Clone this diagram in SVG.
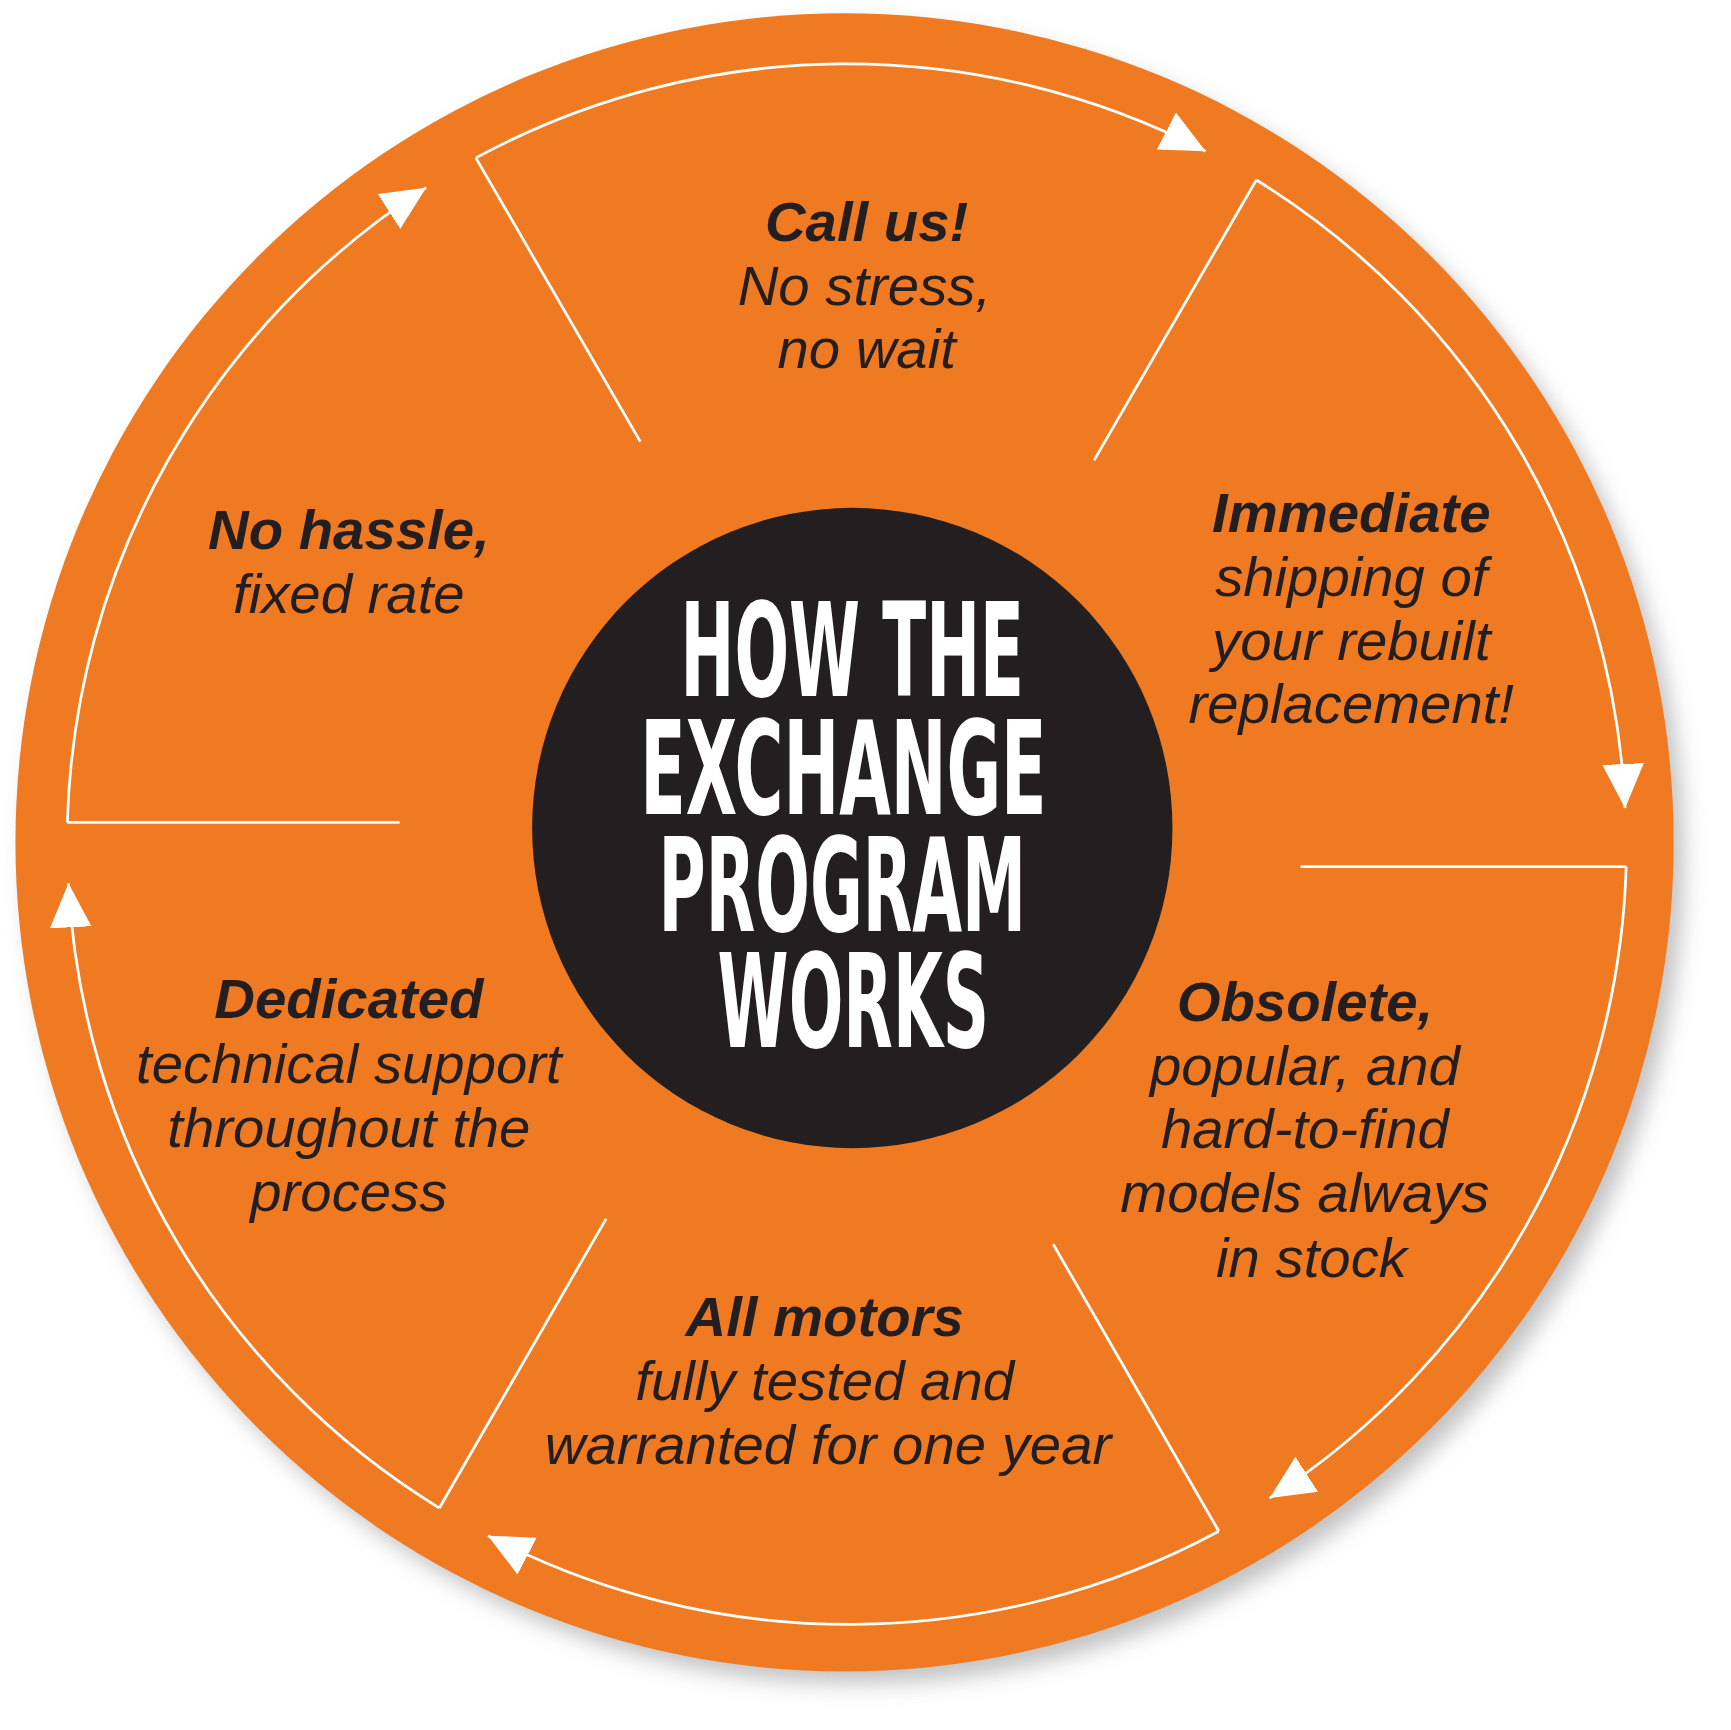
<svg xmlns="http://www.w3.org/2000/svg" width="1731" height="1730" viewBox="0 0 1731 1730">
<defs>
<style>
.t{font-family:"Liberation Sans",Arial,sans-serif;font-style:italic;font-size:51px;fill:#231F20;text-anchor:middle}
.b{font-weight:bold}
.h{font-family:"Liberation Sans Narrow","DejaVu Sans Condensed",sans-serif;font-weight:bold;font-size:118px;fill:#fff}
.ring{fill:none;stroke:#fff;stroke-width:2.5}
</style>
<marker id="ah" markerUnits="userSpaceOnUse" markerWidth="40" markerHeight="40" viewBox="0 0 34 32" refX="34" refY="16" orient="auto"><path d="M0,0 L34,16 L0,32 z" fill="#fff"/></marker>
<filter id="sh" x="-10%" y="-10%" width="120%" height="120%"><feGaussianBlur stdDeviation="10"/></filter>
</defs>
<rect width="1731" height="1730" fill="#fff"/>
<g transform="scale(1.104)">
<circle cx="775" cy="775" r="750" fill="#999" opacity="0.6" filter="url(#sh)"/>
<circle cx="765" cy="763" r="751" fill="#F07A22"/>
<circle id="center" cx="772" cy="750" r="290" fill="#231F20"/>
<g id="title">
<text class="h" x="772" y="630" text-anchor="middle" textLength="311" lengthAdjust="spacingAndGlyphs">HOW THE</text>
<text class="h" x="764" y="737" text-anchor="middle" textLength="368" lengthAdjust="spacingAndGlyphs">EXCHANGE</text>
<text class="h" x="763" y="843" text-anchor="middle" textLength="333" lengthAdjust="spacingAndGlyphs">PROGRAM</text>
<text class="h" x="773" y="948" text-anchor="middle" textLength="246" lengthAdjust="spacingAndGlyphs">WORKS</text>
</g>
<g id="connectors">
<path class="ring" d="M431,143 L580,400"/>
<path class="ring" d="M431,143 A706,706 0 0 1 1092,137" marker-end="url(#ah)"/>
<path class="ring" d="M991,417 L1138,163"/>
<path class="ring" d="M1138,163 A706,706 0 0 1 1472,732" marker-end="url(#ah)"/>
<path class="ring" d="M1178,785 L1473,785"/>
<path class="ring" d="M1473,785 A706,706 0 0 1 1150,1357" marker-end="url(#ah)"/>
<path class="ring" d="M954,1127 L1104,1387"/>
<path class="ring" d="M1104,1387 A706,706 0 0 1 442,1391" marker-end="url(#ah)"/>
<path class="ring" d="M549,1104 L398,1366"/>
<path class="ring" d="M398,1366 A706,706 0 0 1 62,800" marker-end="url(#ah)"/>
<path class="ring" d="M362,745 L61,745"/>
<path class="ring" d="M61,745 A706,706 0 0 1 386,170" marker-end="url(#ah)"/>
</g>
<g id="n1"><text class="t b" x="785" y="218">Call us!</text><text class="t" x="783" y="276">No stress,</text><text class="t" x="785" y="333">no wait</text></g>
<g id="n2"><text class="t b" x="1224" y="482">Immediate</text><text class="t" x="1224" y="540">shipping of</text><text class="t" x="1224" y="598">your rebuilt</text><text class="t" x="1224" y="655">replacement!</text></g>
<g id="n3"><text class="t b" x="1182" y="925">Obsolete,</text><text class="t" x="1182" y="983">popular, and</text><text class="t" x="1182" y="1040">hard-to-find</text><text class="t" x="1182" y="1098">models always</text><text class="t" x="1188" y="1157">in stock</text></g>
<g id="n4"><text class="t b" x="747" y="1210">All motors</text><text class="t" x="747" y="1268">fully tested and</text><text class="t" x="750" y="1326">warranted for one year</text></g>
<g id="n5"><text class="t b" x="316" y="922">Dedicated</text><text class="t" x="316" y="981">technical support</text><text class="t" x="316" y="1039">throughout the</text><text class="t" x="316" y="1097">process</text></g>
<g id="n6"><text class="t b" x="316" y="497">No hassle,</text><text class="t" x="316" y="555">fixed rate</text></g>
</g>
</svg>
